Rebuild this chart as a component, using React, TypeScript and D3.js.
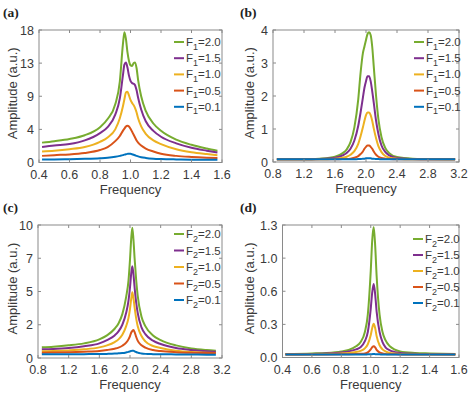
import React from "react";
import * as d3 from "d3";

// series colours (MATLAB default order used by the figure)
const colors = ["#77AC30", "#7E2F8E", "#EDB120", "#D95319", "#0072BD"];
const forceValues = ["2.0", "1.5", "1.0", "0.5", "0.1"];

// ---- panel (a): F1 sweep around 1.0
const freqA = [0.42, 0.5, 0.6, 0.7, 0.8, 0.85, 0.9, 0.93, 0.95, 0.96, 0.97, 0.98, 0.99, 1.0, 1.01, 1.02, 1.03, 1.04, 1.05, 1.07, 1.1, 1.15, 1.2, 1.3, 1.4, 1.5, 1.57];
const ampA20 = [2.7, 2.9, 3.2, 3.7, 4.8, 5.9, 7.9, 11.0, 16.0, 17.7, 16.8, 15.0, 13.8, 13.2, 13.1, 13.5, 13.6, 12.8, 11.2, 9.0, 7.0, 5.3, 4.3, 3.1, 2.4, 1.9, 1.6];
const ampA15 = [2.1, 2.3, 2.5, 3.0, 4.0, 4.8, 6.5, 8.7, 11.8, 13.3, 13.6, 12.9, 11.8, 11.1, 10.8, 10.7, 10.5, 9.8, 8.8, 7.2, 5.6, 4.3, 3.5, 2.6, 2.0, 1.6, 1.35];
const ampA10 = [1.5, 1.6, 1.8, 2.1, 2.8, 3.4, 4.5, 6.0, 7.6, 8.6, 9.5, 9.6, 9.1, 8.5, 8.1, 7.8, 7.4, 6.8, 6.0, 4.9, 3.9, 3.0, 2.5, 1.8, 1.4, 1.15, 1.0];
const ampA05 = [0.9, 1.0, 1.1, 1.3, 1.7, 2.1, 2.9, 3.6, 4.3, 4.6, 4.9, 5.0, 4.9, 4.6, 4.2, 3.8, 3.4, 3.0, 2.7, 2.3, 1.9, 1.5, 1.2, 0.9, 0.75, 0.65, 0.6];
const ampA01 = [0.4, 0.42, 0.45, 0.5, 0.58, 0.65, 0.78, 0.9, 1.0, 1.07, 1.13, 1.17, 1.2, 1.18, 1.13, 1.05, 0.98, 0.9, 0.83, 0.72, 0.62, 0.52, 0.47, 0.42, 0.39, 0.37, 0.36];

// ---- panel (b): F1 sweep around 2.0
const freqB = [0.85, 1.2, 1.4, 1.6, 1.7, 1.75, 1.8, 1.85, 1.9, 1.93, 1.96, 1.98, 2.0, 2.02, 2.04, 2.06, 2.08, 2.1, 2.13, 2.16, 2.2, 2.25, 2.3, 2.4, 2.6, 2.8, 3.15];
const ampB20 = [0.08, 0.08, 0.1, 0.16, 0.27, 0.38, 0.6, 1.05, 1.9, 2.7, 3.3, 3.5, 3.7, 3.88, 3.93, 3.85, 3.5, 2.9, 2.0, 1.3, 0.75, 0.42, 0.27, 0.15, 0.1, 0.09, 0.08];
const ampB15 = [0.08, 0.08, 0.09, 0.13, 0.2, 0.27, 0.4, 0.65, 1.1, 1.5, 1.95, 2.25, 2.45, 2.6, 2.6, 2.45, 2.15, 1.8, 1.25, 0.85, 0.5, 0.3, 0.2, 0.12, 0.09, 0.08, 0.08];
const ampB10 = [0.08, 0.08, 0.08, 0.1, 0.13, 0.16, 0.22, 0.33, 0.55, 0.78, 1.05, 1.25, 1.42, 1.5, 1.5, 1.42, 1.25, 1.02, 0.72, 0.48, 0.3, 0.18, 0.13, 0.1, 0.08, 0.08, 0.08];
const ampB05 = [0.08, 0.08, 0.08, 0.08, 0.09, 0.09, 0.1, 0.13, 0.18, 0.24, 0.32, 0.4, 0.46, 0.5, 0.5, 0.46, 0.4, 0.32, 0.22, 0.16, 0.12, 0.1, 0.09, 0.08, 0.08, 0.08, 0.08];
const ampB01 = [0.08, 0.08, 0.08, 0.08, 0.08, 0.08, 0.08, 0.08, 0.09, 0.09, 0.1, 0.1, 0.11, 0.11, 0.11, 0.11, 0.1, 0.1, 0.09, 0.09, 0.08, 0.08, 0.08, 0.08, 0.08, 0.08, 0.08];

// ---- panel (c): F2 sweep around 2.0
const freqC = [0.85, 1.0, 1.2, 1.4, 1.6, 1.7, 1.8, 1.85, 1.9, 1.95, 1.98, 2.0, 2.015, 2.03, 2.045, 2.06, 2.08, 2.1, 2.15, 2.2, 2.3, 2.4, 2.6, 2.8, 3.0, 3.12];
const ampC20 = [0.8, 0.85, 0.95, 1.1, 1.4, 1.7, 2.2, 2.6, 3.3, 4.6, 5.8, 7.4, 8.9, 9.8, 8.9, 7.5, 5.9, 4.7, 3.1, 2.4, 1.7, 1.35, 0.95, 0.72, 0.6, 0.55];
const ampC15 = [0.65, 0.68, 0.75, 0.88, 1.1, 1.35, 1.7, 2.0, 2.5, 3.4, 4.3, 5.3, 6.3, 6.9, 6.3, 5.3, 4.2, 3.4, 2.3, 1.8, 1.3, 1.05, 0.75, 0.6, 0.5, 0.47];
const ampC10 = [0.5, 0.52, 0.57, 0.65, 0.8, 0.95, 1.2, 1.4, 1.75, 2.4, 3.0, 3.7, 4.4, 4.95, 4.5, 3.8, 3.0, 2.4, 1.65, 1.25, 0.9, 0.75, 0.55, 0.45, 0.4, 0.37];
const ampC05 = [0.4, 0.41, 0.43, 0.47, 0.53, 0.6, 0.7, 0.78, 0.92, 1.15, 1.4, 1.65, 1.9, 2.03, 2.1, 1.95, 1.6, 1.3, 0.95, 0.78, 0.6, 0.52, 0.44, 0.4, 0.38, 0.37];
const ampC01 = [0.28, 0.28, 0.28, 0.29, 0.3, 0.31, 0.33, 0.35, 0.37, 0.42, 0.46, 0.5, 0.53, 0.55, 0.55, 0.5, 0.45, 0.4, 0.34, 0.31, 0.29, 0.28, 0.27, 0.26, 0.25, 0.25];

// ---- panel (d): F2 sweep around 1.0
const freqD = [0.42, 0.6, 0.7, 0.8, 0.85, 0.9, 0.93, 0.96, 0.98, 1.0, 1.01, 1.02, 1.03, 1.04, 1.06, 1.08, 1.1, 1.13, 1.16, 1.2, 1.3, 1.4, 1.575];
const ampD20 = [0.035, 0.04, 0.045, 0.06, 0.075, 0.11, 0.15, 0.25, 0.42, 0.85, 1.15, 1.28, 1.1, 0.8, 0.42, 0.25, 0.17, 0.11, 0.08, 0.06, 0.045, 0.04, 0.035];
const ampD15 = [0.032, 0.035, 0.04, 0.05, 0.06, 0.08, 0.1, 0.16, 0.25, 0.48, 0.64, 0.72, 0.62, 0.45, 0.25, 0.15, 0.1, 0.07, 0.055, 0.045, 0.037, 0.034, 0.032];
const ampD10 = [0.03, 0.032, 0.035, 0.04, 0.045, 0.055, 0.065, 0.09, 0.13, 0.22, 0.29, 0.33, 0.29, 0.21, 0.12, 0.08, 0.06, 0.045, 0.04, 0.035, 0.032, 0.031, 0.03];
const ampD05 = [0.03, 0.03, 0.03, 0.031, 0.032, 0.034, 0.036, 0.04, 0.05, 0.08, 0.1, 0.11, 0.1, 0.075, 0.05, 0.04, 0.035, 0.032, 0.031, 0.03, 0.03, 0.03, 0.03];
const ampD01 = [0.03, 0.03, 0.03, 0.03, 0.03, 0.03, 0.03, 0.03, 0.031, 0.032, 0.033, 0.034, 0.033, 0.032, 0.031, 0.03, 0.03, 0.03, 0.03, 0.03, 0.03, 0.03, 0.03];

// ticks
const xTicksLow = [0.4, 0.6, 0.8, 1.0, 1.2, 1.4, 1.6];
const xTicksHigh = [0.8, 1.2, 1.6, 2.0, 2.4, 2.8, 3.2];
const yTicksA = [0, 4.5, 9, 13.5, 18];
const yLabelsA = ["0", "4", "9", "13", "18"];
const yTicksB = [0, 1, 2, 3, 4];
const yLabelsB = ["0", "1", "2", "3", "4"];
const yTicksC = [0, 2.5, 5, 7.5, 10];
const yLabelsC = ["0", "2", "5", "7", "10"];
const yTicksD = [0, 0.325, 0.65, 0.975, 1.3];
const yLabelsD = ["0.0", "0.3", "0.6", "1.0", "1.3"];

const font = "'Liberation Sans', Arial, sans-serif";
const textColor = "#3a3a3a";
const axisColor = "#8a8a8a";

type PanelProps = {
  tag: string;
  tagX: number;
  yTitleX: number;
  box: { left: number; right: number; top: number; bottom: number };
  xDomain: [number, number];
  yDomain: [number, number];
  xTicks: number[];
  yTicks: number[];
  yLabels: string[];
  freq: number[];
  series: number[][];
  sub: string;
  legend: { x: number; y: number; step: number };
};

function Panel(p: PanelProps) {
  const { box } = p;
  const x = d3.scaleLinear().domain(p.xDomain).range([box.left, box.right]);
  const y = d3.scaleLinear().domain(p.yDomain).range([box.bottom, box.top]);
  const line = d3
    .line<number>()
    .x((d, i) => x(p.freq[i]))
    .y((d) => y(d))
    .curve(d3.curveMonotoneX);
  const tl = 3;

  return (
    <g>
      <text x={p.tagX} y={box.top - 13} fontFamily="'Liberation Serif', serif" fontWeight="bold" fontSize={13.5} fill="#222">
        {p.tag}
      </text>
      {/* curves */}
      {p.series.map((s, i) => (
        <path key={i} d={line(s) || ""} fill="none" stroke={colors[i]} strokeWidth={2} strokeLinejoin="round" />
      ))}
      {/* box */}
      <rect x={box.left} y={box.top} width={box.right - box.left} height={box.bottom - box.top} fill="none" stroke={axisColor} strokeWidth={1} />
      {p.xTicks.map((t) => (
        <g key={"x" + t}>
          <line x1={x(t)} x2={x(t)} y1={box.bottom} y2={box.bottom - tl} stroke={axisColor} />
          <line x1={x(t)} x2={x(t)} y1={box.top} y2={box.top + tl} stroke={axisColor} />
          <text x={x(t)} y={box.bottom + 16} textAnchor="middle" fontFamily={font} fontSize={12.5} fill={textColor}>
            {t.toFixed(1)}
          </text>
        </g>
      ))}
      {p.yTicks.map((t, i) => (
        <g key={"y" + t}>
          <line x1={box.left} x2={box.left + tl} y1={y(t)} y2={y(t)} stroke={axisColor} />
          <line x1={box.right} x2={box.right - tl} y1={y(t)} y2={y(t)} stroke={axisColor} />
          <text x={box.left - 5} y={y(t) + 4.5} textAnchor="end" fontFamily={font} fontSize={12.5} fill={textColor}>
            {p.yLabels[i]}
          </text>
        </g>
      ))}
      <text x={(box.left + box.right) / 2} y={box.bottom + 31} textAnchor="middle" fontFamily={font} fontSize={13} fill={textColor}>
        Frequency
      </text>
      <text
        transform={`translate(${p.yTitleX},${(box.top + box.bottom) / 2 - 3}) rotate(-90)`}
        textAnchor="middle"
        fontFamily={font}
        fontSize={13}
        fill={textColor}
      >
        Amplitude (a.u.)
      </text>
      {/* legend */}
      {forceValues.map((v, i) => {
        const ly = p.legend.y + i * p.legend.step;
        return (
          <g key={"l" + v}>
            <line x1={p.legend.x} x2={p.legend.x + 10} y1={ly} y2={ly} stroke={colors[i]} strokeWidth={2} />
            <text x={p.legend.x + 12} y={ly + 4} fontFamily={font} fontSize={11.5} fill={textColor}>
              F
              <tspan fontSize={9} dy={3.5}>
                {p.sub}
              </tspan>
              <tspan dy={-3.5}>={v}</tspan>
            </text>
          </g>
        );
      })}
    </g>
  );
}

export default function App() {
  return (
    <svg width={474} height={397} style={{ position: "absolute", left: 0, top: 0, background: "#fff" }}>
      <Panel
        tag="(a)"
        tagX={3}
        yTitleX={17}
        box={{ left: 39, right: 222, top: 30, bottom: 162.5 }}
        xDomain={[0.4, 1.6]}
        yDomain={[0, 18]}
        xTicks={xTicksLow}
        yTicks={yTicksA}
        yLabels={yLabelsA}
        freq={freqA}
        series={[ampA20, ampA15, ampA10, ampA05, ampA01]}
        sub="1"
        legend={{ x: 174, y: 42, step: 16.2 }}
      />
      <Panel
        tag="(b)"
        tagX={240}
        yTitleX={254}
        box={{ left: 273, right: 459, top: 30, bottom: 162 }}
        xDomain={[0.8, 3.2]}
        yDomain={[0, 4]}
        xTicks={xTicksHigh}
        yTicks={yTicksB}
        yLabels={yLabelsB}
        freq={freqB}
        series={[ampB20, ampB15, ampB10, ampB05, ampB01]}
        sub="1"
        legend={{ x: 414, y: 42, step: 16.2 }}
      />
      <Panel
        tag="(c)"
        tagX={3}
        yTitleX={17}
        box={{ left: 38, right: 222, top: 225, bottom: 358 }}
        xDomain={[0.8, 3.2]}
        yDomain={[0, 10]}
        xTicks={xTicksHigh}
        yTicks={yTicksC}
        yLabels={yLabelsC}
        freq={freqC}
        series={[ampC20, ampC15, ampC10, ampC05, ampC01]}
        sub="2"
        legend={{ x: 174, y: 234, step: 16.5 }}
      />
      <Panel
        tag="(d)"
        tagX={240}
        yTitleX={254}
        box={{ left: 282.5, right: 459, top: 225, bottom: 357.5 }}
        xDomain={[0.4, 1.6]}
        yDomain={[0, 1.3]}
        xTicks={xTicksLow}
        yTicks={yTicksD}
        yLabels={yLabelsD}
        freq={freqD}
        series={[ampD20, ampD15, ampD10, ampD05, ampD01]}
        sub="2"
        legend={{ x: 413, y: 239, step: 16 }}
      />
    </svg>
  );
}
